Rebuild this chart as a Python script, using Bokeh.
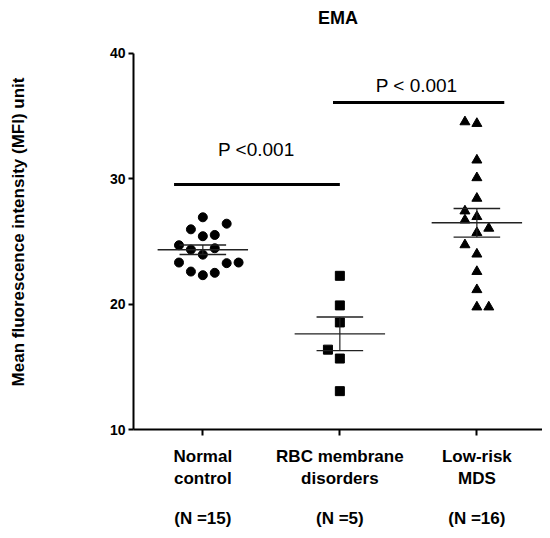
import numpy as np
from bokeh.plotting import figure
from bokeh.models import Range1d, FixedTicker, LinearAxis
from bokeh.core.properties import value
from bokeh.embed import file_html
from bokeh.resources import INLINE

# ---------------- data ----------------
title_text = "EMA"
categories = ["Normal\ncontrol", "RBC membrane\ndisorders", "Low-risk\nMDS"]
n_labels = ["(N =15)", "(N =5)", "(N =16)"]

normal_vals = [26.93, 26.42, 25.97, 25.42, 25.52, 24.70, 24.35, 24.46, 23.95,
               23.32, 23.27, 23.32, 22.60, 22.31, 22.50]
normal_col = [0, 2, -1, 0, 1, -2, -1, 1, 0, -2, 2, 3, -1, 0, 1]

rbc_vals = [22.26, 19.90, 18.54, 16.37, 15.66, 13.06]
rbc_col = [0, 0, 0, -1, 0, 0]

mds_vals = [34.54, 34.41, 31.49, 30.08, 28.44, 27.43, 26.98, 26.71, 26.05,
            25.70, 24.73, 23.99, 22.60, 21.15, 19.77, 19.77]
mds_col = [-1, 0, 0, 0, 0, -1, 0, -1, 1, 0, -1, 0, 0, 0, 0, 1]

sig_x0 = [-0.21, 0.95]
sig_x1 = [1.00, 2.20]
sig_y = [29.55, 36.08]
sig_text = ["P <0.001", "P < 0.001"]
sig_text_x = [0.39, 1.56]
sig_text_y = [32.35, 37.45]

y_ticks = [10, 20, 30, 40]
y_axis_min, y_axis_max = 10, 40

FONT = "Liberation Sans"
COL_STEP = 0.087

# frame: top at 34 px, bottom at 430 px; the y axis line is bounded to 10-40
FRAME_TOP = 34
FRAME_BOTTOM = 430
PX_PER_UNIT = 377 / (y_axis_max - y_axis_min)
y_top = y_axis_min + (FRAME_BOTTOM - FRAME_TOP) / PX_PER_UNIT

p = figure(width=542, height=530, output_backend="svg", toolbar_location=None,
           x_range=Range1d(-0.506, 2.479), y_range=Range1d(y_axis_min, y_top),
           min_border_left=133, min_border_right=0, min_border_top=FRAME_TOP,
           min_border_bottom=100)
p.outline_line_color = None
p.xgrid.visible = False
p.ygrid.visible = False
p.background_fill_color = "white"

# title
p.title.text = title_text
p.title.align = "center"
p.title.vertical_align = "top"
p.title.standoff = 10
p.title.text_font = FONT
p.title.text_font_size = "18px"
p.title.text_font_style = "bold"
p.title.text_color = "black"

# y axis
ya = p.yaxis[0]
ya.ticker = FixedTicker(ticks=y_ticks)
ya.bounds = (y_axis_min, y_axis_max)
ya.axis_label = "Mean fluorescence intensity (MFI) unit"
ya.axis_label_text_font = FONT
ya.axis_label_text_font_size = "17px"
ya.axis_label_text_font_style = "bold"
ya.axis_label_text_color = "black"
ya.axis_label_standoff = 79
ya.major_label_text_font = FONT
ya.major_label_text_font_size = "14px"
ya.major_label_text_font_style = "bold"
ya.major_label_text_color = "black"
ya.major_label_standoff = 3
ya.axis_line_width = 2
ya.major_tick_line_width = 2
ya.major_tick_out = 5
ya.major_tick_in = 0
ya.minor_tick_line_color = None

# x axis: categories
xa = p.xaxis[0]
xa.ticker = FixedTicker(ticks=list(range(len(categories))))
xa.major_label_overrides = {i: categories[i] for i in range(len(categories))}
xa.major_label_text_font = FONT
xa.major_label_text_font_size = "17px"
xa.major_label_text_font_style = "bold"
xa.major_label_text_color = "black"
xa.major_label_text_line_height = 1.2
xa.major_label_standoff = 11
xa.axis_line_width = 2
xa.major_tick_line_width = 2
xa.major_tick_out = 6
xa.major_tick_in = 0
xa.minor_tick_line_color = None

# second x axis: group sizes
xn = LinearAxis(ticker=FixedTicker(ticks=list(range(len(n_labels)))))
xn.major_label_overrides = {i: n_labels[i] for i in range(len(n_labels))}
xn.major_label_text_font = FONT
xn.major_label_text_font_size = "17px"
xn.major_label_text_font_style = "bold"
xn.major_label_text_color = "black"
xn.major_label_standoff = 17
xn.axis_line_color = None
xn.major_tick_line_color = None
xn.minor_tick_line_color = None
xn.major_tick_out = 0
xn.major_tick_in = 0
p.add_layout(xn, "below")

# points
groups = [(normal_vals, normal_col, "circle", 9),
          (rbc_vals, rbc_col, "square", 9),
          (mds_vals, mds_col, "triangle", 10)]
for gi, (vals, cols, marker, size) in enumerate(groups):
    xs = [gi + c * COL_STEP for c in cols]
    p.scatter(xs, vals, marker=marker, size=size, fill_color="black",
              line_color="black")

# mean and SEM lines
means = [float(np.mean(g[0])) for g in groups]
sems = [float(np.std(g[0], ddof=1) / np.sqrt(len(g[0]))) for g in groups]
idx = list(range(len(groups)))
hi = [m + s for m, s in zip(means, sems)]
lo = [m - s for m, s in zip(means, sems)]
p.segment(x0=[i - 0.33 for i in idx], x1=[i + 0.33 for i in idx],
          y0=means, y1=means, line_color="#222222", line_width=1.4)
p.segment(x0=[i - 0.17 for i in idx] * 2, x1=[i + 0.17 for i in idx] * 2,
          y0=hi + lo, y1=hi + lo, line_color="#222222", line_width=1.4)
p.segment(x0=idx, x1=idx, y0=lo, y1=hi, line_color="#222222", line_width=1.2)

# significance bars
p.segment(x0=sig_x0, x1=sig_x1, y0=sig_y, y1=sig_y, line_color="black",
          line_width=3)
p.text(x=sig_text_x, y=sig_text_y, text=sig_text, text_font=value(FONT),
       text_font_size="19px", text_align="center", text_baseline="middle",
       text_color="black")

open("out.html", "w").write(file_html(p, INLINE))
